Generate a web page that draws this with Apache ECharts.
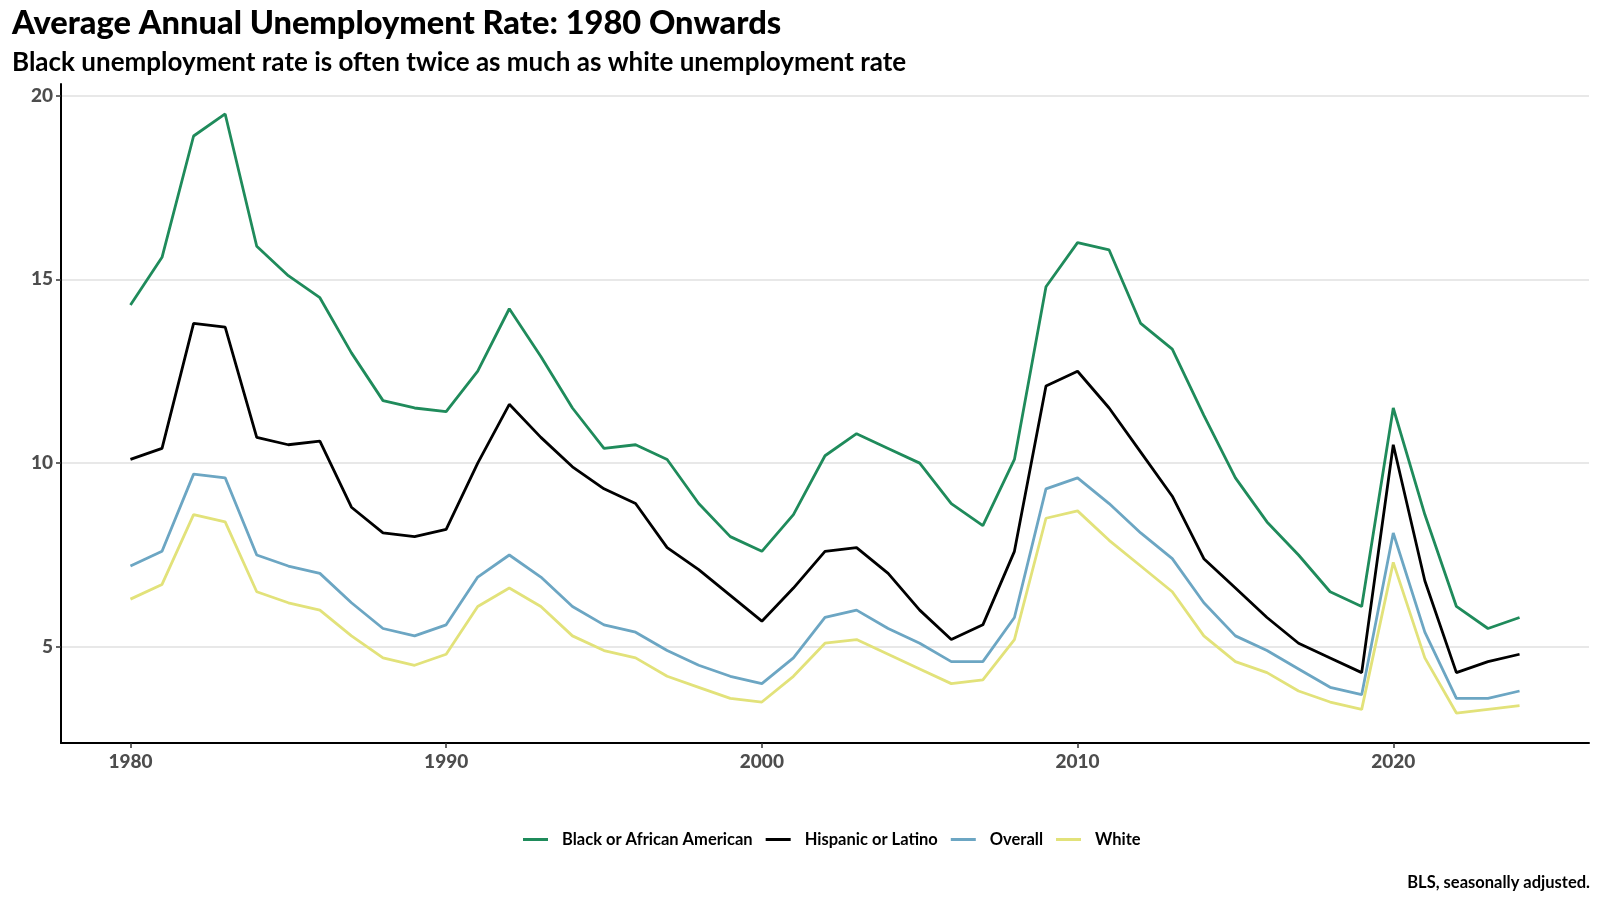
<!DOCTYPE html>
<html>
<head>
<meta charset="utf-8">
<title>Average Annual Unemployment Rate: 1980 Onwards</title>
<script src="https://cdn.jsdelivr.net/npm/echarts@6.0.0/dist/echarts.min.js"></script>
<style>
  html, body { margin: 0; padding: 0; background: #fff; }
  #chart { width: 1600px; height: 900px; }
</style>
</head>
<body>
<div id="chart"></div>
<script>
// 年份 1980 - 2024
const years = [];
for (let y = 1980; y <= 2024; y++) years.push(y);

// 各组失业率（年均值，%）
const black = [
  14.3, 15.6, 18.9, 19.5, 15.9, 15.1, 14.5, 13.0, 11.7, 11.5,
  11.4, 12.5, 14.2, 12.9, 11.5, 10.4, 10.5, 10.1, 8.9, 8.0,
  7.6, 8.6, 10.2, 10.8, 10.4, 10.0, 8.9, 8.3, 10.1, 14.8,
  16.0, 15.8, 13.8, 13.1, 11.3, 9.6, 8.4, 7.5, 6.5, 6.1,
  11.5, 8.6, 6.1, 5.5, 5.8
];
const hispanic = [
  10.1, 10.4, 13.8, 13.7, 10.7, 10.5, 10.6, 8.8, 8.1, 8.0,
  8.2, 10.0, 11.6, 10.7, 9.9, 9.3, 8.9, 7.7, 7.1, 6.4,
  5.7, 6.6, 7.6, 7.7, 7.0, 6.0, 5.2, 5.6, 7.6, 12.1,
  12.5, 11.5, 10.3, 9.1, 7.4, 6.6, 5.8, 5.1, 4.7, 4.3,
  10.5, 6.8, 4.3, 4.6, 4.8
];
const overall = [
  7.2, 7.6, 9.7, 9.6, 7.5, 7.2, 7.0, 6.2, 5.5, 5.3,
  5.6, 6.9, 7.5, 6.9, 6.1, 5.6, 5.4, 4.9, 4.5, 4.2,
  4.0, 4.7, 5.8, 6.0, 5.5, 5.1, 4.6, 4.6, 5.8, 9.3,
  9.6, 8.9, 8.1, 7.4, 6.2, 5.3, 4.9, 4.4, 3.9, 3.7,
  8.1, 5.4, 3.6, 3.6, 3.8
];
const white = [
  6.3, 6.7, 8.6, 8.4, 6.5, 6.2, 6.0, 5.3, 4.7, 4.5,
  4.8, 6.1, 6.6, 6.1, 5.3, 4.9, 4.7, 4.2, 3.9, 3.6,
  3.5, 4.2, 5.1, 5.2, 4.8, 4.4, 4.0, 4.1, 5.2, 8.5,
  8.7, 7.9, 7.2, 6.5, 5.3, 4.6, 4.3, 3.8, 3.5, 3.3,
  7.3, 4.7, 3.2, 3.3, 3.4
];

const seriesNames = ['Black or African American', 'Hispanic or Latino', 'Overall', 'White'];
const seriesColors = ['#1f8b5b', '#000000', '#6ca6c3', '#e2e27a'];
const seriesValues = [black, hispanic, overall, white];

// 刻度标签
const xTicks = [1980, 1990, 2000, 2010, 2020];
const yTicks = [5, 10, 15, 20];

const FONT = 'Lato, "Noto Sans", sans-serif';

const chart = echarts.init(document.getElementById('chart'), null, { renderer: 'canvas' });

// 坐标轴范围按 5% 留白
const allValues = [].concat(black, hispanic, overall, white);
const yLo = Math.min(...allValues), yHi = Math.max(...allValues);
const yPad = (yHi - yLo) * 0.05;
const xPad = (years[years.length - 1] - years[0]) * 0.05;

const option = {
  backgroundColor: '#fff',
  animation: false,
  title: [
    {
      text: 'Average Annual Unemployment Rate: 1980 Onwards',
      left: 7, top: 2,
      textStyle: { fontFamily: FONT, fontSize: 32.6, fontWeight: 900, color: '#000' }
    },
    {
      text: 'Black unemployment rate is often twice as much as white unemployment rate',
      left: 7, top: 45,
      textStyle: { fontFamily: FONT, fontSize: 26, fontWeight: 'bold', color: '#000' }
    },
    {
      text: 'BLS, seasonally adjusted.',
      right: 5, top: 869,
      textStyle: { fontFamily: FONT, fontSize: 16.5, fontWeight: 'bold', color: '#000' }
    }
  ],
  legend: {
    left: 518,
    top: 826,
    icon: 'rect',
    itemWidth: 25,
    itemHeight: 3,
    itemGap: 13,
    data: seriesNames,
    textStyle: { fontFamily: FONT, fontSize: 16.5, fontWeight: 'bold', color: '#000', padding: [0, 0, 0, 9] }
  },
  grid: { left: 61, right: 11, top: 84, bottom: 157, containLabel: false },
  xAxis: {
    type: 'value',
    min: years[0] - xPad,
    max: years[years.length - 1] + xPad,
    axisLine: { show: true, lineStyle: { color: '#000', width: 2 } },
    axisTick: { show: true, length: 5, customValues: xTicks, lineStyle: { color: '#333', width: 1.5 } },
    axisLabel: {
      customValues: xTicks,
      formatter: v => String(v),
      fontFamily: FONT, fontSize: 19, fontWeight: 900, color: '#4d4d4d', margin: 9
    },
    splitLine: { show: false }
  },
  yAxis: {
    type: 'value',
    min: yLo - yPad,
    max: yHi + yPad,
    axisLine: { show: true, lineStyle: { color: '#000', width: 2 } },
    axisTick: { show: true, length: 5, customValues: yTicks, lineStyle: { color: '#333', width: 1.5 } },
    axisLabel: {
      customValues: yTicks,
      fontFamily: FONT, fontSize: 19, fontWeight: 900, color: '#4d4d4d', margin: 8
    },
    splitLine: { show: true, lineStyle: { color: '#e8e8e8', width: 2 } }
  },
  series: seriesNames.map((name, i) => ({
    name: name,
    type: 'line',
    showSymbol: false,
    symbol: 'none',
    color: seriesColors[i],
    lineStyle: { width: 2.8, color: seriesColors[i] },
    data: years.map((yr, k) => [yr, seriesValues[i][k]])
  }))
};

chart.setOption(option);
</script>
</body>
</html>
